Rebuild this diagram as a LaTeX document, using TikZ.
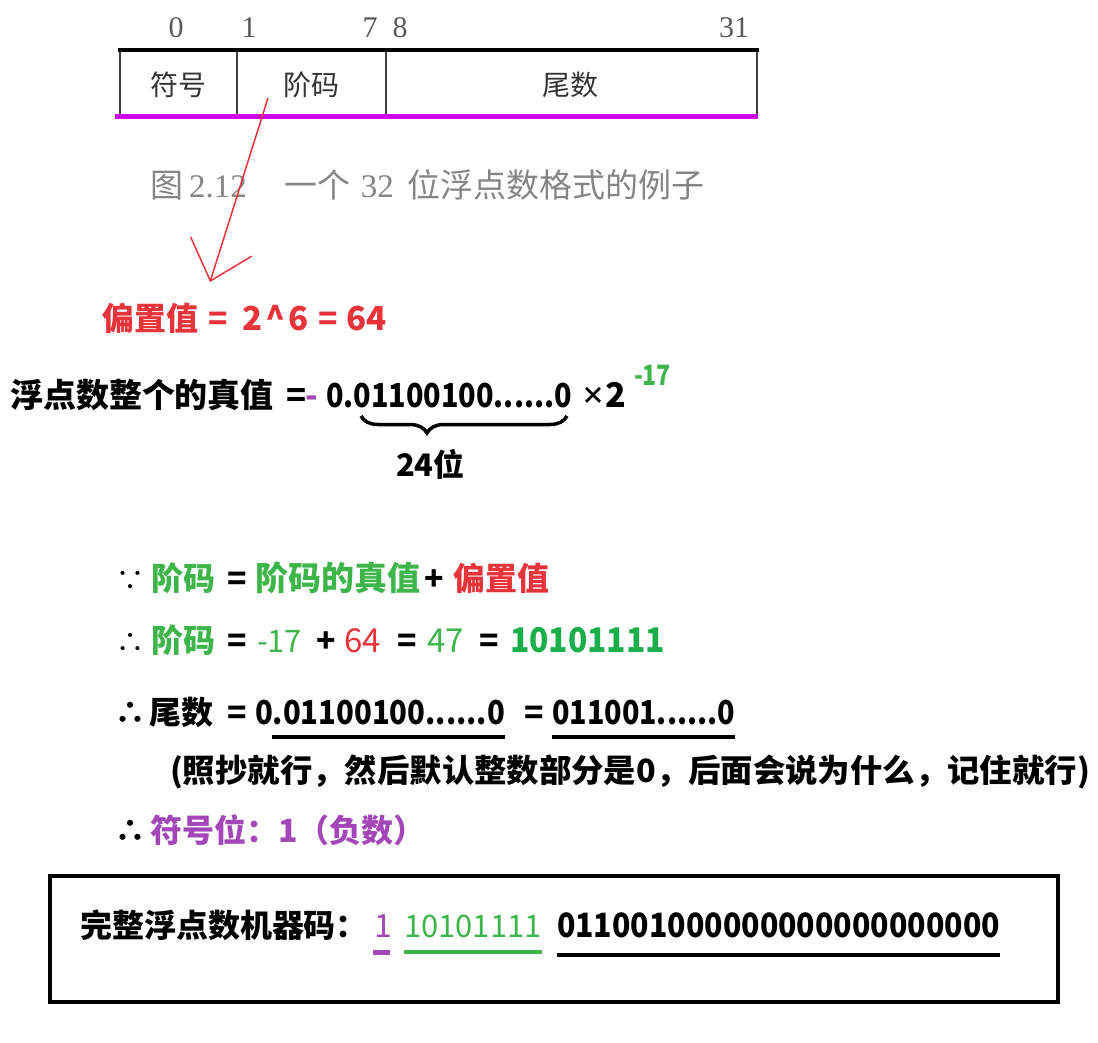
\documentclass[tikz,border=0pt]{standalone}
\usepackage{fontspec}
\usepackage{graphicx}
\setmainfont{Noto Sans CJK SC}
\newfontfamily\lserif{Liberation Serif}
\usetikzlibrary{arrows.meta,decorations.pathreplacing,calc}
\newcommand\fsz[1]{\fontsize{#1pt}{#1pt}\selectfont}
\newcommand\wfit[2]{\resizebox{#1pt}{\height}{#2}}
\definecolor{myred}{HTML}{E7343A}
\definecolor{mygreen}{HTML}{3DB54A}
\definecolor{dgreen}{HTML}{1AAE4B}
\definecolor{mypurple}{HTML}{A347B8}
\definecolor{magline}{HTML}{CC00EE}
\definecolor{capgray}{HTML}{858585}
\begin{document}
\begin{tikzpicture}[x=1pt,y=-1pt,
  t/.style={anchor=base west,inner sep=0pt,outer sep=0pt},
  tc/.style={anchor=base,inner sep=0pt,outer sep=0pt},
  cell/.style={inner sep=0pt,text=black!80,font=\fsz{28}},
  bitno/.style={anchor=base,inner sep=0pt,text=black!65,font=\lserif\fsz{30}},
  bk/.style={t,font=\bfseries\fsz{33}},
  eq/.style={t,font=\bfseries\fsz{32}},
  ulin/.style={line width=3.5pt,line cap=butt},
  redarrow/.style={draw=myred,line width=1.5pt,-{Straight Barb[length=36pt,width=64pt,line width=1.5pt]}},
  bracestyle/.style={line width=3.5pt,decorate,decoration={brace,amplitude=17pt,aspect=0.32,mirror}}]
\useasboundingbox (0,0) rectangle (1098,1042);
\fill[white] (0,0) rectangle (1098,1042);

% ---- table ----
\draw[line width=2pt,black!75] (120,50)--(120,116) (237,50)--(237,116) (386,50)--(386,116) (757,50)--(757,116);
\draw[line width=4pt] (118,50)--(759,50);
\draw[line width=5pt,magline] (115,116)--(758,116);
\node[cell] (c1) at (178,85) {符号};
\node[cell] (c2) at (311,85) {阶码};
\node[cell] (c3) at (570,85) {尾数};
\node[bitno] (b0) at (176,37) {0};
\node[bitno] (b1) at (249,37) {1};
\node[bitno] (b7) at (370,37) {7};
\node[bitno] (b8) at (400,37) {8};
\node[bitno] (b31) at (734,37) {31};
\node[t,text=capgray] (cap) at (150,197) {\fsz{33}图\hspace{6pt}{\lserif 2.12}\hspace{38pt}一个\hspace{10pt}{\lserif 32}\hspace{14pt}位浮点数格式的例子};

% ---- arrow ----
\coordinate (arrS) at (268,98);
\coordinate (arrE) at (210,282);
\draw[redarrow] (arrS) -- (arrE);

% ---- bias ----
\node[t,text=myred,font=\bfseries\fsz{32}] (bz1) at (102,330) {偏置值};
\node[t,text=myred,font=\bfseries\fsz{32}] (bz2) at (208,330) {=};
\node[t,text=myred,font=\bfseries\fsz{33}] (bz3) at (242,330) {2\hspace{3pt}\textasciicircum\hspace{3pt}6};
\node[t,text=myred,font=\bfseries\fsz{32}] (bz4) at (318,330) {=};
\node[t,text=myred,font=\bfseries\fsz{33}] (bz5) at (346,330) {64};

% ---- true value ----
\node[bk] (z1) at (10,407) {浮点数整个的真值};
\node[bk] (z2) at (286,407) {=};
\node[bk,text=mypurple] (z3) at (305,407) {-};
\node[bk] (z4) at (326,407) {\wfit{246}{0.01100100......0}};
\node[tc,font=\bfseries\fsz{24}] (z6) at (593,404) {×};
\node[bk,font=\bfseries\fsz{34}] (z7) at (605,407) {2};
\node[t,text=mygreen,font=\bfseries\fsz{28}] (z8) at (634,385) {\wfit{37}{-17}};
\draw[bracestyle] ($(z4.base west)+(35,9)$) -- ($(z4.base east)+(-5,9)$);
\node[t,font=\bfseries\fsz{31}] (n24) at (396,476) {24位};

% ---- line 1 ----
\node[t,font=\fsz{28}] (a1) at (116,590) {∵};
\node[t,text=mygreen,font=\bfseries\fsz{32}] (a2) at (151,590) {阶码};
\node[eq] (a3) at (227,590) {=};
\node[t,text=mygreen,font=\bfseries\fsz{33}] (a4) at (255,590) {阶码的真值};
\node[eq] (a5) at (424,590) {+};
\node[t,text=myred,font=\bfseries\fsz{32}] (a6) at (453,590) {偏置值};

% ---- line 2 ----
\node[t,font=\fsz{28}] (d1) at (116,652) {∴};
\node[t,text=mygreen,font=\bfseries\fsz{32}] (d2) at (151,652) {阶码};
\node[eq] (d3) at (227,652) {=};
\node[t,text=mygreen,font=\fsz{31}] (d4) at (257,652) {-17};
\node[eq] (d5) at (316,652) {+};
\node[t,text=myred,font=\fsz{33}] (d6) at (344,652) {64};
\node[eq] (d7) at (397,652) {=};
\node[t,text=mygreen,font=\fsz{33}] (d8) at (427,652) {47};
\node[eq] (d9) at (479,652) {=};
\node[t,text=dgreen,font=\bfseries\fsz{34}] (d10) at (510,652) {\wfit{155}{10101111}};

% ---- line 3 ----
\node[t,font=\bfseries\fsz{32}] (e1) at (114,724) {∴};
\node[t,font=\bfseries\fsz{32}] (e2) at (149,724) {尾数};
\node[eq] (e3) at (227,724) {=};
\node[bk] (e4) at (255,724) {\wfit{250}{0.01100100......0}};
\node[eq] (e6) at (524,724) {=};
\node[bk] (e7) at (552,724) {\wfit{183}{011001......0}};
\draw[ulin] ($(e4.base west)+(17,13)$) -- ($(e4.base east)+(0,13)$);
\draw[ulin] ($(e7.base west)+(0,13)$) -- ($(e7.base east)+(0,13)$);

% ---- line 4 ----
\node[t,font=\bfseries\fsz{32}] (f1) at (170,782) {\wfit{920}{(照抄就行，然后默认整数部分是0，后面会说为什么，记住就行)}};

% ---- line 5 ----
\node[t,font=\bfseries\fsz{32}] (g1) at (114,842) {∴};
\node[t,text=mypurple,font=\bfseries\fsz{32}] (g2) at (150,842) {符号位：1（负数）};

% ---- result box ----
\draw[line width=3.5pt] (50,876) rectangle (1058,1002);
\node[t,font=\bfseries\fsz{32}] (k1) at (80,937) {完整浮点数机器码：};
\node[t,text=mypurple,font=\fsz{32}] (k2) at (374,937) {1};
\node[t,text=mygreen,font=\fsz{31}] (k3) at (404,937) {10101111};
\node[t,font=\bfseries\fsz{33.5}] (k4) at (557,937) {\wfit{443}{011001000000000000000000}};
\draw[line width=5pt,mypurple] ($(k2.base west)+(-1,15)$) -- ($(k2.base east)+(-2,15)$);
\draw[line width=4pt,mygreen] ($(k3.base west)+(0,15)$) -- ($(k3.base east)+(0,15)$);
\draw[line width=4pt] ($(k4.base west)+(0,18)$) -- ($(k4.base east)+(0,18)$);
\end{tikzpicture}
\end{document}
